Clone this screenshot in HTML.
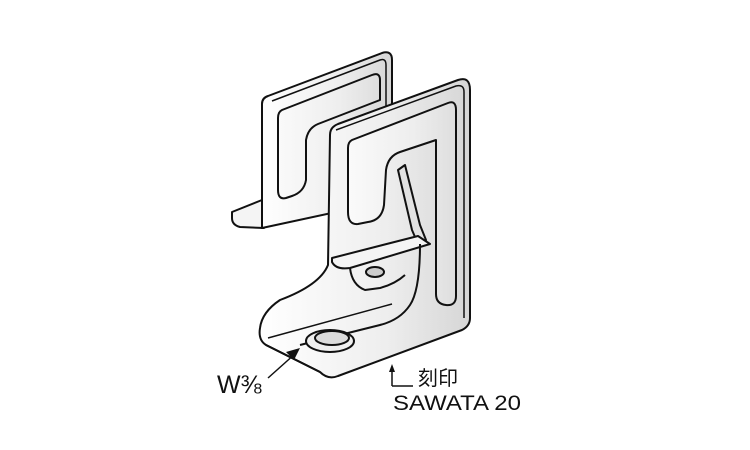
<!DOCTYPE html>
<html><head><meta charset="utf-8"><style>
html,body{margin:0;padding:0;background:#fff;width:750px;height:450px;overflow:hidden}
svg{display:block}
</style></head><body>
<svg width="750" height="450" viewBox="0 0 750 450" xmlns="http://www.w3.org/2000/svg">
<defs>
<linearGradient id="g" x1="0" y1="0" x2="1" y2="0">
<stop offset="0" stop-color="#ffffff"/><stop offset="0.6" stop-color="#eeeeee"/><stop offset="1" stop-color="#d6d6d6"/>
</linearGradient>
<linearGradient id="g2" x1="0" y1="0" x2="1" y2="0">
<stop offset="0" stop-color="#fafafa"/><stop offset="0.6" stop-color="#eeeeee"/><stop offset="1" stop-color="#dedede"/>
</linearGradient>
</defs>
<g stroke="#111" stroke-width="2" stroke-linejoin="round" fill="url(#g)">
<path d="M232,212 L262,200 L264,228 L240,227 Q232,225 232,218 Z" fill="#f4f4f4"/>
<path d="M268,96 L382,53 Q392,50 392,60 L392,200 L262,228 L262,104 Q262,98 268,96 Z"/>
<path d="M272,101 L380,60 Q386,58 386,65 L386,200" fill="none" stroke-width="1.5"/>
<path d="M282,110 L372,75 Q380,72 380,80 L380,100 L318,124 Q308,128 306,140 L306,180 Q304,192 292,196 L286,198 Q278,200 278,190 L278,118 Q278,112 282,110 Z" fill="url(#g2)"/>
<path d="M338,124 L458,80 Q470,76 470,90 L470,318 Q470,326 462,330 L338,376 Q328,380 320,372 L266,345 Q258,340 260,328 Q262,312 280,300 Q320,285 328,265 L330,135 Q330,127 338,124 Z"/>
<path d="M336,130 L456,86 Q464,84 464,92 L464,318" fill="none" stroke-width="1.5"/>
<path d="M352,140 L448,103 Q456,100 456,110 L456,296 Q456,306 446,305 Q436,304 436,294 L436,140 L400,152 Q388,156 386,170 L384,205 Q382,220 368,222 L358,224 Q348,225 348,212 L348,148 Q348,142 352,140 Z" fill="url(#g2)"/>
<path d="M398,170 L405,165 L420,225 L426,240 L418,244 L412,230 Z" fill="#e2e2e2"/>
<path d="M332,258 L418,236 L430,244 L350,268 Q336,270 332,262 Z" fill="#f4f4f4"/>
<path d="M350,268 Q352,285 365,290 L380,288 Q395,284 405,275" fill="none"/>
<path d="M420,244 Q420,290 410,305 Q400,320 380,325 L300,345" fill="none"/>
<path d="M268,338 L392,304" fill="none" stroke-width="1.5"/>
<ellipse cx="330" cy="341" rx="24" ry="11" fill="#efefef"/>
<ellipse cx="332" cy="338" rx="17" ry="7" fill="#dcdcdc"/>
<ellipse cx="375" cy="272" rx="9" ry="5" fill="#ccc"/>
<path d="M266,345 L320,372" fill="none"/>
</g>
<g stroke="#111" stroke-width="1.5" fill="none">
<line x1="268" y1="378" x2="296" y2="353"/>
<line x1="392" y1="386" x2="392" y2="368"/>
<line x1="392" y1="386" x2="413" y2="386"/>
</g>
<path d="M300,348 L286,352 L294,360 Z" fill="#111"/>
<path d="M392,364 L389,372 L395,372 Z" fill="#111"/>
<text x="217" y="393" font-family="Liberation Sans, sans-serif" font-size="25" fill="#111">W⅜</text>
<text x="418" y="385" font-family="Liberation Sans, 'Noto Sans CJK JP', sans-serif" font-size="20" fill="#111">刻印</text>
<text x="393" y="410" font-family="Liberation Sans Narrow, Liberation Sans, sans-serif" font-size="21" fill="#111" textLength="128" lengthAdjust="spacingAndGlyphs">SAWATA 20</text>
</svg>
</body></html>
